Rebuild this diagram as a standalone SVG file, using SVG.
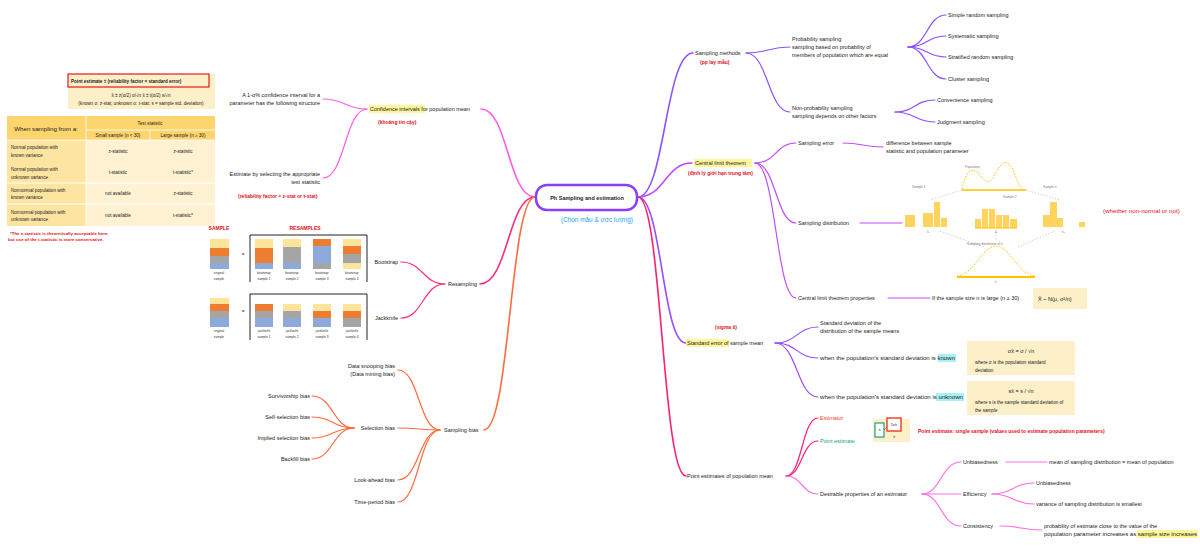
<svg xmlns="http://www.w3.org/2000/svg" width="1200" height="548" viewBox="0 0 1200 548">
<style>
text{font-family:"Liberation Sans",Arial,sans-serif;font-size:5.5px;fill:#222;dominant-baseline:central}
.e{text-anchor:end}
.m{text-anchor:middle}
.r{fill:#e0101b;font-weight:bold;font-size:5px}
.s{font-size:4.6px}
.xs{font-size:3.2px;fill:#777}
.c{fill:none;stroke-width:1.2;stroke-linecap:round}
.c1{stroke:#8c52ff}.c2{stroke:#c04cfd}.c3{stroke:#9b4dff}.c4{stroke:#ff1f70}.c5{stroke:#ff6ee6}
.c6{stroke:#ff5ce6}.c7{stroke:#ff2d7a}.c8{stroke:#ff6b3d}
.main{stroke-width:1.6}
.hl{fill:#fff59a}.hc{fill:#a8f0f5}
.box{fill:#fdefc8}
.y{fill:#fde49b}.o{fill:#ed7d31}.g{fill:#a5a5a5}.b{fill:#8eaadb}
.bar{fill:#ffd35c}
.dot{fill:none;stroke:#ffc000;stroke-width:1;stroke-dasharray:1.5 1.5}
.gd{fill:none;stroke:#bbb;stroke-width:0.7;stroke-dasharray:1.5 1.5}
</style>

<g id="connectors">
<path class="c c1 main" d="M638 197 C665 197 665 53 693 53"/>
<path class="c c2 main" d="M638 197 C665 197 665 163 692 163"/>
<path class="c c3 main" d="M638 197 C662 197 662 343 686 343"/>
<path class="c c4 main" d="M638 197 C662 197 662 476 686 476"/>
<path class="c c6 main" d="M535 197 C508 197 508 109 481 109"/>
<path class="c c7 main" d="M535 197 C508 197 508 284 480 284"/>
<path class="c c8 main" d="M535 197 C510 197 510 430 484 430"/>
<path class="c c1" d="M746 53 C768 53 768 47 790 47"/>
<path class="c c1" d="M746 53 C768 53 768 112 790 112"/>
<path class="c c1" d="M908 47 C927 47 927 15 946 15"/>
<path class="c c1" d="M908 47 C927 47 927 36 946 36"/>
<path class="c c1" d="M908 47 C927 47 927 57 946 57"/>
<path class="c c1" d="M908 47 C927 47 927 79 946 79"/>
<path class="c c1" d="M895 112 C915 112 915 100 935 100"/>
<path class="c c1" d="M895 112 C915 112 915 122 935 122"/>
<path class="c c2" d="M755 163 C776 163 776 143 796 143"/>
<path class="c c2" d="M755 163 C776 163 776 223 796 223"/>
<path class="c c2" d="M755 163 C776 163 776 298 796 298"/>
<path class="c c2" d="M843 143 C863 143 863 147 883 147"/>
<path class="c c2" d="M860 223 L902 223"/>
<path class="c c2" d="M888 298 L930 298"/>
<path class="c c3" d="M775 343 C797 343 797 327 818 327"/>
<path class="c c3" d="M775 343 C797 343 797 358 818 358"/>
<path class="c c3" d="M775 343 C797 343 797 397 818 397"/>
<path class="c c4" d="M786 476 C802 476 802 418 818 418"/>
<path class="c c4" d="M786 476 C802 476 802 441 818 441"/>
<path class="c c5" d="M786 476 C802 476 802 494 818 494"/>
<path class="c c5" d="M922 494 C941 494 941 462 961 462"/>
<path class="c c5" d="M922 494 L961 494"/>
<path class="c c5" d="M922 494 C941 494 941 526 961 526"/>
<path class="c c5" d="M1006 462 L1047 462"/>
<path class="c c5" d="M992 494 C1013 494 1013 483 1034 483"/>
<path class="c c5" d="M992 494 C1013 494 1013 504 1034 504"/>
<path class="c c5" d="M1000 526 C1021 526 1021 530 1042 530"/>
<path class="c c6" d="M367 109 C345 109 345 99 323 99"/>
<path class="c c6" d="M367 109 C345 109 345 178 323 178"/>
<path class="c c7" d="M445 284 C423 284 423 262 401 262"/>
<path class="c c7" d="M445 284 C423 284 423 318 401 318"/>
<path class="c c8" d="M440 430 C419 430 419 370 398 370"/>
<path class="c c8" d="M440 430 C419 430 419 428 398 428"/>
<path class="c c8" d="M440 430 C419 430 419 480 398 480"/>
<path class="c c8" d="M440 430 C419 430 419 502 398 502"/>
<path class="c c8" d="M354 428 C333 428 333 396 312 396"/>
<path class="c c8" d="M354 428 C333 428 333 417 312 417"/>
<path class="c c8" d="M354 428 C333 428 333 438 312 438"/>
<path class="c c8" d="M354 428 C333 428 333 459 312 459"/>
</g>

<g id="center">
<rect x="536" y="185" width="101" height="25" rx="11" fill="#fff" stroke="#8a3ffc" stroke-width="2.5"/>
<text x="587" y="197.5" class="m" style="font-weight:bold">Ph Sampling and estimation</text>
<text x="597" y="219" class="m" style="fill:#1fa5e8;font-size:6.4px">(Chọn mẫu &amp; ước lượng)</text>
</g>

<g id="sampling-methods">
<text x="695" y="53">Sampling methods</text>
<text x="700" y="62" class="r">(pp lấy mẫu)</text>
</g>
<g id="probability">
<text x="792" y="39">Probability sampling</text>
<text x="792" y="47">sampling based on probability of</text>
<text x="792" y="55">members of population which are equal</text>
</g>
<g id="srs"><text x="948" y="15">Simple random sampling</text></g>
<g id="sys"><text x="948" y="36">Systematic sampling</text></g>
<g id="strat"><text x="948" y="57">Stratified random sampling</text></g>
<g id="cluster"><text x="948" y="79">Cluster sampling</text></g>
<g id="nonprob">
<text x="792" y="108">Non-probability sampling</text>
<text x="792" y="116">sampling depends on other factors</text>
</g>
<g id="conv"><text x="937" y="100">Convenience sampling</text></g>
<g id="judg"><text x="937" y="122">Judgment sampling</text></g>

<g id="clt">
<rect x="694" y="159" width="58" height="8" class="hl"/>
<text x="695" y="163">Central limit theorem</text>
<text x="688" y="173" class="r">(định lý giới hạn trung tâm)</text>
</g>
<g id="sampling-error"><text x="798" y="143">Sampling error</text></g>
<g id="se-def">
<text x="886" y="143">difference between sample</text>
<text x="886" y="151">statistic and population parameter</text>
</g>
<g id="sampling-dist"><text x="798" y="223">Sampling distribution</text></g>
<g id="dist-image">
<path class="gd" d="M962 190 L930 200 M1026 190 L1060 200 M940 231 L984 247 M1055 231 L1018 247 M996 232 L996 240"/>
<path class="dot" d="M962 189 C966 170 972 168 977 172 C983 178 986 184 990 181 C996 176 1000 160 1007 163 C1014 166 1016 182 1022 189"/>
<line x1="962" y1="190" x2="1026" y2="190" stroke="#ffc000" stroke-width="1.5"/>
<text x="965" y="167" class="xs">Population</text>
<text x="912" y="187" class="xs">Sample 1</text>
<text x="1003" y="197" class="xs">Sample 2</text>
<text x="1043" y="187" class="xs">Sample n</text>
<rect x="905" y="215" width="10" height="12" class="bar"/>
<rect x="923" y="213" width="10" height="14" class="bar"/>
<rect x="934" y="202" width="6" height="25" class="bar"/>
<rect x="941" y="218" width="6" height="9" class="bar"/>
<text x="927" y="232" class="xs">x̄₁</text>
<rect x="975" y="219" width="6" height="9" class="bar"/>
<rect x="982" y="209" width="6" height="19" class="bar"/>
<rect x="989" y="209" width="6" height="19" class="bar"/>
<rect x="996" y="215" width="6" height="13" class="bar"/>
<rect x="1003" y="215" width="6" height="13" class="bar"/>
<rect x="1010" y="219" width="7" height="9" class="bar"/>
<line x1="975" y1="228" x2="1017" y2="228" stroke="#ffc000" stroke-width="1"/>
<text x="995" y="232" class="xs">x̄₂</text>
<rect x="1043" y="215" width="7" height="12" class="bar"/>
<rect x="1050" y="202" width="7" height="25" class="bar"/>
<rect x="1057" y="218" width="6" height="9" class="bar"/>
<rect x="1079" y="222" width="6" height="5" class="bar"/>
<text x="1062" y="232" class="xs">x̄ₙ</text>
<text x="967" y="244" class="xs">Sampling distribution of x̄</text>
<path class="dot" d="M957 276 C975 274 982 246 996 246 C1010 246 1017 274 1035 276"/>
<line x1="957" y1="277" x2="1035" y2="277" stroke="#ffc000" stroke-width="2"/>
<text x="995" y="282" class="xs">x̄</text>
</g>
<g id="non-normal"><text x="1103" y="210" style="fill:#e0101b;font-size:6.2px">(whether non-normal or not)</text></g>
<g id="clt-props"><text x="798" y="298">Central limit theorem properties</text></g>
<g id="clt-large">
<text x="932" y="298">If the sample size n is large (n ≥ 30)</text>
<rect x="1033" y="288" width="54" height="21" class="box"/>
<text x="1038" y="299">X̄ ~ N(μ, σ²/n)</text>
</g>

<g id="std-error">
<rect x="686" y="339" width="43" height="8" class="hl"/>
<text x="687" y="343">Standard error of sample mean</text>
<text x="715" y="327" class="r">(sigma x̄)</text>
</g>
<g id="sd-def">
<text x="820" y="323">Standard deviation of the</text>
<text x="820" y="331">distribution of the sample means</text>
</g>
<g id="known">
<rect x="938" y="354" width="18" height="8" class="hc"/>
<text x="820" y="358" textLength="135" lengthAdjust="spacingAndGlyphs">when the population's standard deviation is known</text>
<rect x="967" y="341" width="108" height="34" class="box"/>
<text x="1021" y="351" class="m">σx̄ = σ / √n</text>
<text x="975" y="362" class="s">where σ is the population standard</text>
<text x="975" y="370" class="s">deviation</text>
</g>
<g id="unknown">
<rect x="936" y="393" width="28" height="8" class="hc"/>
<text x="820" y="397" textLength="143" lengthAdjust="spacingAndGlyphs">when the population's standard deviation is unknown</text>
<rect x="967" y="381" width="108" height="34" class="box"/>
<text x="1021" y="391" class="m">sx̄ = s / √n</text>
<text x="975" y="402" class="s">where s is the sample standard deviation of</text>
<text x="975" y="410" class="s">the sample</text>
</g>

<g id="point-est">
<text x="687" y="476">Point estimates of population mean</text>
</g>
<g id="estimator"><text x="820" y="418" style="fill:#f0452a">Estimator</text></g>
<g id="point-estimate"><text x="820" y="441" style="fill:#17a37a">Point estimate</text></g>
<g id="pe-image">
<rect x="873" y="419" width="37" height="23" class="box"/>
<rect x="875" y="423" width="9" height="14" fill="#fff" stroke="#17a37a" stroke-width="1.2"/>
<rect x="887" y="418" width="14" height="13" fill="#fff" stroke="#f0452a" stroke-width="1.5"/>
<line x1="884" y1="430" x2="887" y2="427" stroke="#333" stroke-width="0.5"/>
<text x="879.5" y="430" class="m" style="font-size:3.5px">x̄</text>
<text x="894" y="424.5" class="m" style="font-size:3.2px">Σx/n</text>
<text x="894" y="437" class="m" style="font-size:3.5px">x̄</text>
</g>
<g id="pe-note"><text x="918" y="431" class="r">Point estimate: single sample (values used to estimate population parameters)</text></g>
<g id="desirable"><text x="820" y="494">Desirable properties of an estimator</text></g>
<g id="unbiased"><text x="963" y="462">Unbiasedness</text></g>
<g id="unbiased-def"><text x="1049" y="462">mean of sampling distribution = mean of population</text></g>
<g id="efficiency"><text x="963" y="494">Efficiency</text></g>
<g id="eff-unb"><text x="1036" y="483">Unbiasedness</text></g>
<g id="eff-var"><text x="1036" y="504">variance of sampling distribution is smallest</text></g>
<g id="consistency"><text x="963" y="526">Consistency</text></g>
<g id="cons-def">
<rect x="1137" y="530" width="61" height="8" class="hl"/>
<text x="1044" y="526">probability of estimate close to the value of the</text>
<text x="1044" y="534" textLength="153" lengthAdjust="spacingAndGlyphs">population parameter increases as sample size increases</text>
</g>

<g id="ci">
<rect x="369" y="105" width="56" height="8" class="hl"/>
<text x="370" y="109">Confidence intervals for population mean</text>
<text x="378" y="122" class="r">(khoảng tin cậy)</text>
</g>
<g id="ci-structure">
<text x="320" y="95" class="e">A 1-α% confidence interval for a</text>
<text x="320" y="103" class="e">parameter has the following structure</text>
</g>
<g id="ci-formula">
<rect x="68" y="74" width="147" height="35" class="box"/>
<rect x="68" y="74" width="141" height="13" fill="none" stroke="#e8161b" stroke-width="1.2"/>
<text x="71" y="81" style="font-size:4.6px;font-weight:bold">Point estimate ± (reliability factor × standard error)</text>
<text x="141" y="95" class="m s">x̄ ± z(α/2) σ/√n        x̄ ± t(α/2) s/√n</text>
<text x="141" y="103" class="m s">(known σ: z-stat; unknown σ: t-stat; s = sample std. deviation)</text>
</g>
<g id="ci-select">
<text x="320" y="174" class="e">Estimate by selecting the appropriate</text>
<text x="320" y="182" class="e">test statistic</text>
<text x="238" y="196" class="r">(reliability factor = z-stat or t-stat)</text>
</g>
<g id="ci-table">
<rect x="7" y="116" width="208" height="110" fill="#fef2d2"/>
<rect x="7" y="116" width="208" height="24" fill="#fdd56e"/>
<rect x="7" y="140" width="79" height="86" fill="#fde4a0"/>
<line x1="86" y1="130" x2="215" y2="130" stroke="#fff" stroke-width="0.8"/>
<line x1="86" y1="116" x2="86" y2="226" stroke="#fff" stroke-width="0.8"/>
<line x1="150" y1="130" x2="150" y2="140" stroke="#fff" stroke-width="0.8"/>
<line x1="7" y1="140" x2="215" y2="140" stroke="#fff" stroke-width="0.8"/>
<line x1="7" y1="183" x2="215" y2="183" stroke="#fff" stroke-width="1.2"/>
<line x1="7" y1="204" x2="215" y2="204" stroke="#fff" stroke-width="1.2"/>
<text x="46" y="128" class="m" style="font-size:6.2px">When sampling from a:</text>
<text x="150" y="123" class="m s">Test statistic</text>
<text x="118" y="135" class="m s">Small sample (n &lt; 30)</text>
<text x="183" y="135" class="m s">Large sample (n ≥ 30)</text>
<text x="11" y="147" class="s">Normal population with</text>
<text x="11" y="155" class="s">known variance</text>
<text x="11" y="169" class="s">Normal population with</text>
<text x="11" y="177" class="s">unknown variance</text>
<text x="11" y="190" class="s">Nonnormal population with</text>
<text x="11" y="197" class="s">known variance</text>
<text x="11" y="212" class="s">Nonnormal population with</text>
<text x="11" y="219" class="s">unknown variance</text>
<text x="118" y="151" class="m s">z-statistic</text>
<text x="183" y="151" class="m s">z-statistic</text>
<text x="118" y="172" class="m s">t-statistic</text>
<text x="183" y="172" class="m s">t-statistic*</text>
<text x="118" y="193" class="m s">not available</text>
<text x="183" y="193" class="m s">z-statistic</text>
<text x="118" y="215" class="m s">not available</text>
<text x="183" y="215" class="m s">t-statistic*</text>
<text x="10" y="233" class="r" style="font-size:4.4px">*The z-statistic is theoretically acceptable here,</text>
<text x="8" y="239" class="r" style="font-size:4.4px">but use of the t-statistic is more conservative.</text>
</g>

<g id="resampling"><text x="448" y="284">Resampling</text></g>
<g id="bootstrap"><text x="398" y="262" class="e">Bootstrap</text></g>
<g id="jackknife"><text x="398" y="318" class="e">Jackknife</text></g>
<g id="resample-image">
<text x="219" y="228" class="m r">SAMPLE</text>
<text x="305" y="228" class="m r">RESAMPLES</text>
<rect x="210" y="239" width="19" height="9" class="y"/><rect x="210" y="248" width="19" height="8" class="o"/><rect x="210" y="256" width="19" height="7" class="g"/><rect x="210" y="263" width="19" height="6" class="b"/>
<text x="219" y="273" class="m xs" style="fill:#333">original</text><text x="219" y="279" class="m xs" style="fill:#333">sample</text>
<text x="243" y="254" class="m s">=</text>
<path d="M250 282 V235 H367 V282" fill="none" stroke="#222" stroke-width="1"/>
<rect x="255" y="239" width="18" height="9" class="y"/><rect x="255" y="248" width="18" height="15" class="o"/><rect x="255" y="263" width="18" height="6" class="b"/>
<rect x="283" y="239" width="18" height="8" class="y"/><rect x="283" y="247" width="18" height="16" class="g"/><rect x="283" y="263" width="18" height="6" class="b"/>
<rect x="313" y="239" width="18" height="7" class="o"/><rect x="313" y="246" width="18" height="17" class="b"/><rect x="313" y="263" width="18" height="6" class="g"/>
<rect x="343" y="239" width="18" height="7" class="y"/><rect x="343" y="246" width="18" height="8" class="o"/><rect x="343" y="254" width="18" height="9" class="g"/><rect x="343" y="263" width="18" height="6" class="y"/>
<text x="264" y="273" class="m xs" style="fill:#333">bootstrap</text><text x="264" y="279" class="m xs" style="fill:#333">sample 1</text>
<text x="292" y="273" class="m xs" style="fill:#333">bootstrap</text><text x="292" y="279" class="m xs" style="fill:#333">sample 2</text>
<text x="322" y="273" class="m xs" style="fill:#333">bootstrap</text><text x="322" y="279" class="m xs" style="fill:#333">sample 3</text>
<text x="352" y="273" class="m xs" style="fill:#333">bootstrap</text><text x="352" y="279" class="m xs" style="fill:#333">sample 4</text>
<rect x="210" y="298" width="19" height="6" class="y"/><rect x="210" y="304" width="19" height="7" class="o"/><rect x="210" y="311" width="19" height="7" class="g"/><rect x="210" y="318" width="19" height="9" class="b"/>
<text x="219" y="331" class="m xs" style="fill:#333">original</text><text x="219" y="337" class="m xs" style="fill:#333">sample</text>
<text x="243" y="311" class="m s">=</text>
<path d="M250 340 V294 H367 V340" fill="none" stroke="#222" stroke-width="1"/>
<rect x="255" y="304" width="18" height="7" class="o"/><rect x="255" y="311" width="18" height="7" class="g"/><rect x="255" y="318" width="18" height="9" class="b"/>
<rect x="283" y="304" width="18" height="7" class="y"/><rect x="283" y="311" width="18" height="7" class="g"/><rect x="283" y="318" width="18" height="9" class="b"/>
<rect x="313" y="304" width="18" height="7" class="y"/><rect x="313" y="311" width="18" height="7" class="o"/><rect x="313" y="318" width="18" height="9" class="b"/>
<rect x="343" y="304" width="18" height="7" class="y"/><rect x="343" y="311" width="18" height="7" class="o"/><rect x="343" y="318" width="18" height="9" class="g"/>
<text x="264" y="331" class="m xs" style="fill:#333">jackknife</text><text x="264" y="337" class="m xs" style="fill:#333">sample 1</text>
<text x="292" y="331" class="m xs" style="fill:#333">jackknife</text><text x="292" y="337" class="m xs" style="fill:#333">sample 2</text>
<text x="322" y="331" class="m xs" style="fill:#333">jackknife</text><text x="322" y="337" class="m xs" style="fill:#333">sample 3</text>
<text x="352" y="331" class="m xs" style="fill:#333">jackknife</text><text x="352" y="337" class="m xs" style="fill:#333">sample 4</text>
</g>

<g id="sampling-bias"><text x="444" y="430">Sampling bias</text></g>
<g id="data-snooping">
<text x="395" y="366" class="e">Data snooping bias</text>
<text x="395" y="374" class="e">(Data mining bias)</text>
</g>
<g id="selection"><text x="395" y="428" class="e">Selection bias</text></g>
<g id="survivorship"><text x="310" y="396" class="e">Survivorship bias</text></g>
<g id="self-selection"><text x="310" y="417" class="e">Self-selection bias</text></g>
<g id="implied"><text x="310" y="438" class="e">Implied selection bias</text></g>
<g id="backfill"><text x="310" y="459" class="e">Backfill bias</text></g>
<g id="look-ahead"><text x="395" y="480" class="e">Look-ahead bias</text></g>
<g id="time-period"><text x="395" y="502" class="e">Time-period bias</text></g>
</svg>
